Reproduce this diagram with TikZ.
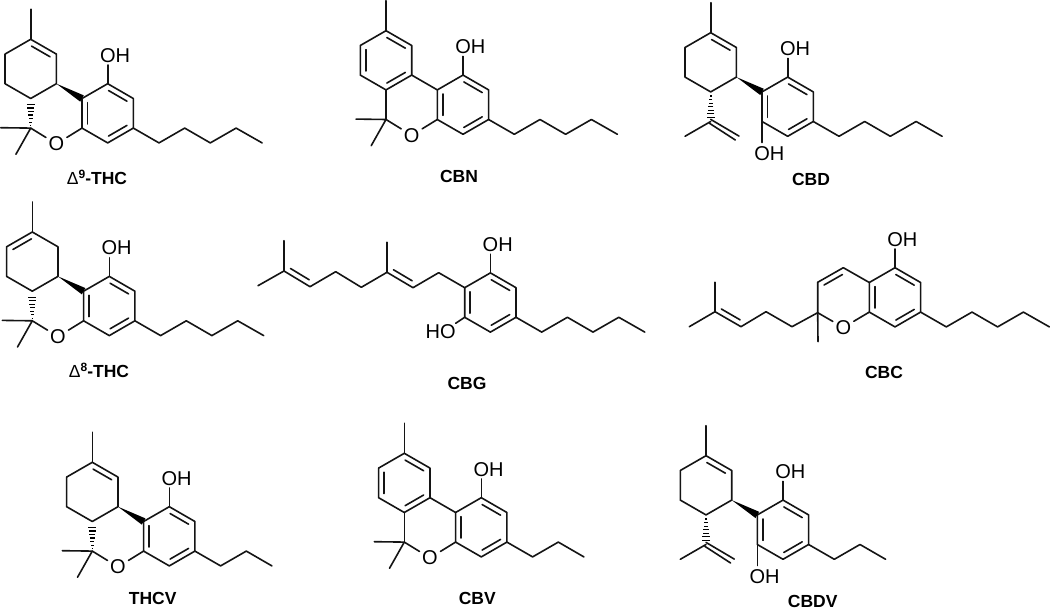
\documentclass[tikz,border=0pt]{standalone}
\usepackage{fontspec}
\setmainfont{Liberation Sans}
\usetikzlibrary{calc}
\tikzset{
  bond/.style={line width=1.6pt,line cap=round,line join=round,black!92},
  atom/.style={inner sep=0pt,font=\fontsize{20}{20}\selectfont},
  oxy/.style={inner sep=2.5pt,font=\fontsize{20}{20}\selectfont},
  lab/.style={inner sep=0pt,font=\bfseries\fontsize{17.5}{20}\selectfont}
}
% inner line of a double bond, on the right of A->B as seen on the page
\newcommand{\inb}[2]{\draw[bond] ($(#1)!.14!(#2)!5.5pt!-90:(#2)$) -- ($(#2)!.14!(#1)!5.5pt!90:(#1)$);}
% filled wedge, narrow at #1, wide at #2
\newcommand{\wdg}[2]{\fill[black,line join=round] (#1) -- ($(#2)!3.6pt!90:(#1)$) -- ($(#2)!3.6pt!-90:(#1)$) -- cycle;}
% hashed wedge, narrow at #1, wide at #2, strokes at #3 fractions
\newcommand{\hsh}[3]{\foreach \t in {#3}{\pgfmathsetmacro{\hw}{0.4+\t*4.4}
  \draw[line width=1.2pt,black] ($(#1)!\t!(#2)!\hw pt!90:(#2)$) -- ($(#1)!\t!(#2)!\hw pt!-90:(#2)$);}}
% phenol ring with OH, on the common lattice
\newcommand{\ARing}[1]{
  \coordinate (#1ar1) at (51.3,59.2);
  \coordinate (#1ar2) at (77,44.4);
  \coordinate (#1ar3) at (102.6,59.2);
  \coordinate (#1ar4) at (102.6,88.8);
  \coordinate (#1ar5) at (77,103.6);
  \coordinate (#1ar6) at (51.3,88.8);
  \coordinate (#1ohb) at (77,25.7);
  \node[atom] (#1oh) at (84.3,15.9) {OH};
  \draw[bond] (#1ar1) -- (#1ar2) -- (#1ar3) -- (#1ar4) -- (#1ar5) -- (#1ar6) -- cycle;
  \draw[bond] (#1ar2) -- (#1ohb);
  \inb{#1ar2}{#1ar3}\inb{#1ar4}{#1ar5}\inb{#1ar6}{#1ar1}
}
% six-membered ring top left with methyl
\newcommand{\CRing}[1]{
  \coordinate (#1me) at (0,-30);
  \coordinate (#1c9) at (0,0);
  \coordinate (#1c10) at (25.7,14.8);
  \coordinate (#1c10a) at (25.7,44.4);
  \coordinate (#1c6a) at (0,59.2);
  \coordinate (#1c7) at (-25.7,44.4);
  \coordinate (#1c8) at (-25.7,14.8);
  \draw[bond] (#1c9) -- (#1c10) -- (#1c10a) -- (#1c6a) -- (#1c7) -- (#1c8) -- cycle;
  \draw[bond] (#1me) -- (#1c9);
}
% pyran O and gem-dimethyl
\newcommand{\Pyran}[1]{
  \coordinate (#1c6) at (0,88.8);
  \coordinate (#1m1) at (-30,88.4);
  \coordinate (#1m2) at (-14.8,115);
  \node[oxy] (#1o) at (25.7,104.6) {O};
  \draw[bond] (#1m1) -- (#1c6) -- (#1m2);
  \draw[bond] (#1c6) -- (#1o) -- (#1ar6);
}
\newcommand{\Pentyl}[1]{
  \coordinate (#1t1) at (128.3,103.6);
  \coordinate (#1t2) at (154,88.8);
  \coordinate (#1t3) at (179.6,103.6);
  \coordinate (#1t4) at (205.4,88.8);
  \coordinate (#1t5) at (231.4,103.6);
  \draw[bond] (#1ar4) -- (#1t1) -- (#1t2) -- (#1t3) -- (#1t4) -- (#1t5);
}
\newcommand{\Propyl}[1]{
  \coordinate (#1t1) at (128.3,103.6);
  \coordinate (#1t2) at (154,88.8);
  \coordinate (#1t3) at (179.6,103.6);
  \draw[bond] (#1ar4) -- (#1t1) -- (#1t2) -- (#1t3);
}
% tetrahydro tricycle
\newcommand{\THC}[1]{\CRing{#1}\ARing{#1}\Pyran{#1}
  \wdg{#1c10a}{#1ar1}
  \hsh{#1c6}{#1c6a}{0.08,0.2,0.32,0.44,0.56,0.68,0.8}
}
% aromatic tricycle
\newcommand{\CBN}[1]{\CRing{#1}\ARing{#1}\Pyran{#1}
  \draw[bond] (#1c10a) -- (#1ar1);
  \draw[bond] (#1c6a) -- (#1c6);
  \inb{#1c9}{#1c10}\inb{#1c10a}{#1c6a}\inb{#1c7}{#1c8}
}
% open form with isopropenyl and second OH
\newcommand{\CBD}[1]{\CRing{#1}\ARing{#1}
  \wdg{#1c10a}{#1ar1}
  \inb{#1c9}{#1c10}
  \coordinate (#1ip) at (0,88.8);
  \coordinate (#1ipa) at (0,86.7);
  \coordinate (#1ipb) at (28.3,103.4);
  \coordinate (#1ipc) at (-1.2,90.6);
  \coordinate (#1ipd) at (24.6,107.3);
  \coordinate (#1ipe) at (-25.7,103.6);
  \hsh{#1c6a}{#1ip}{0.14,0.26,0.38,0.5,0.62,0.74,0.86}
  \draw[bond] (#1ipa) -- (#1ipb);
  \draw[bond] (#1ipc) -- (#1ipd);
  \draw[bond] (#1ip) -- (#1ipe);
  \coordinate (#1oh2b) at (51.3,109.8);
  \node[atom] (#1oh2) at (58.6,120.5) {OH};
  \draw[bond] (#1ar6) -- (#1oh2b);
}
\begin{document}
\begin{tikzpicture}[x=1pt,y=-1pt]
\useasboundingbox (0,0) rectangle (1050,609);
\fill[white] (0,0) rectangle (1050,609);

\begin{scope}[shift={(30.7,39.3)}]
  \THC{a}\Pentyl{a}\inb{ac9}{ac10}
\end{scope}
\begin{scope}[shift={(386,30.7)}]
  \CBN{b}\Pentyl{b}
\end{scope}
\begin{scope}[shift={(710.7,32.7)}]
  \CBD{c}\Pentyl{c}
\end{scope}
\begin{scope}[shift={(32.3,232)}]
  \THC{d}\Pentyl{d}\inb{dc8}{dc9}
\end{scope}
\begin{scope}[shift={(92.3,462.3)}]
  \THC{g}\Propyl{g}\inb{gc9}{gc10}
\end{scope}
\begin{scope}[shift={(404.3,453.3)}]
  \CBN{h}\Propyl{h}
\end{scope}
\begin{scope}[shift={(706,455.7)}]
  \CBD{i}\Propyl{i}
\end{scope}

% CBG
\begin{scope}[shift={(413.4,228.5)}]
  \ARing{e}\Pentyl{e}
\end{scope}
\coordinate (ehob) at (455.7,323.3);
\node[atom] (eho) at (440.7,331.7) {HO};
\draw[bond] (ear6) -- (ehob);
\coordinate (e1) at (438.7,272.7);
\coordinate (e2) at (413,287.7);
\coordinate (e3) at (387,272.3);
\coordinate (e3m) at (387,242.3);
\coordinate (e4) at (361.3,287.3);
\coordinate (e5) at (335.7,271.7);
\coordinate (e6) at (310,286.7);
\coordinate (e7) at (284,271);
\coordinate (e7m) at (284,240.7);
\coordinate (e8) at (258,285.7);
\draw[bond] (ear1) -- (e1) -- (e2) -- (e3) -- (e4) -- (e5) -- (e6) -- (e7) -- (e8);
\draw[bond] (e3) -- (e3m);
\draw[bond] (e7) -- (e7m);
\inb{e2}{e3}\inb{e6}{e7}

% CBC
\begin{scope}[shift={(818,223.3)}]
  \ARing{f}\Pentyl{f}
\end{scope}
\coordinate (f1) at (843.3,267.7);
\coordinate (f2) at (817.7,282.3);
\coordinate (f3) at (817.7,312.7);
\node[oxy] (fo) at (843.3,327.5) {O};
\coordinate (f3m) at (818,341.7);
\coordinate (f4) at (792,326.7);
\coordinate (f5) at (766,311.7);
\coordinate (f6) at (741,326.7);
\coordinate (f7) at (715,311.7);
\coordinate (f7m) at (715,282.3);
\coordinate (f8) at (689.3,326.7);
\draw[bond] (far1) -- (f1) -- (f2) -- (f3) -- (fo) -- (far6);
\draw[bond] (f3) -- (f3m);
\draw[bond] (f3) -- (f4) -- (f5) -- (f6) -- (f7) -- (f8);
\draw[bond] (f7) -- (f7m);
\inb{f2}{f1}\inb{f6}{f7}

% labels
\newcommand{\dlt}[1]{{\mdseries\symbol{"0394}}\raisebox{6.2pt}{\fontsize{12}{12}\selectfont #1}-THC}
\node[lab] (l1) at (97,177) {\dlt{9}};
\node[lab] (l2) at (459,176) {CBN};
\node[lab] (l3) at (811,179) {CBD};
\node[lab] (l4) at (99,370) {\dlt{8}};
\node[lab] (l5) at (467,383) {CBG};
\node[lab] (l6) at (884,372) {CBC};
\node[lab] (l7) at (152.7,598.5) {THCV};
\node[lab] (l8) at (477.3,598.5) {CBV};
\node[lab] (l9) at (812.7,601) {CBDV};
\end{tikzpicture}
\end{document}
